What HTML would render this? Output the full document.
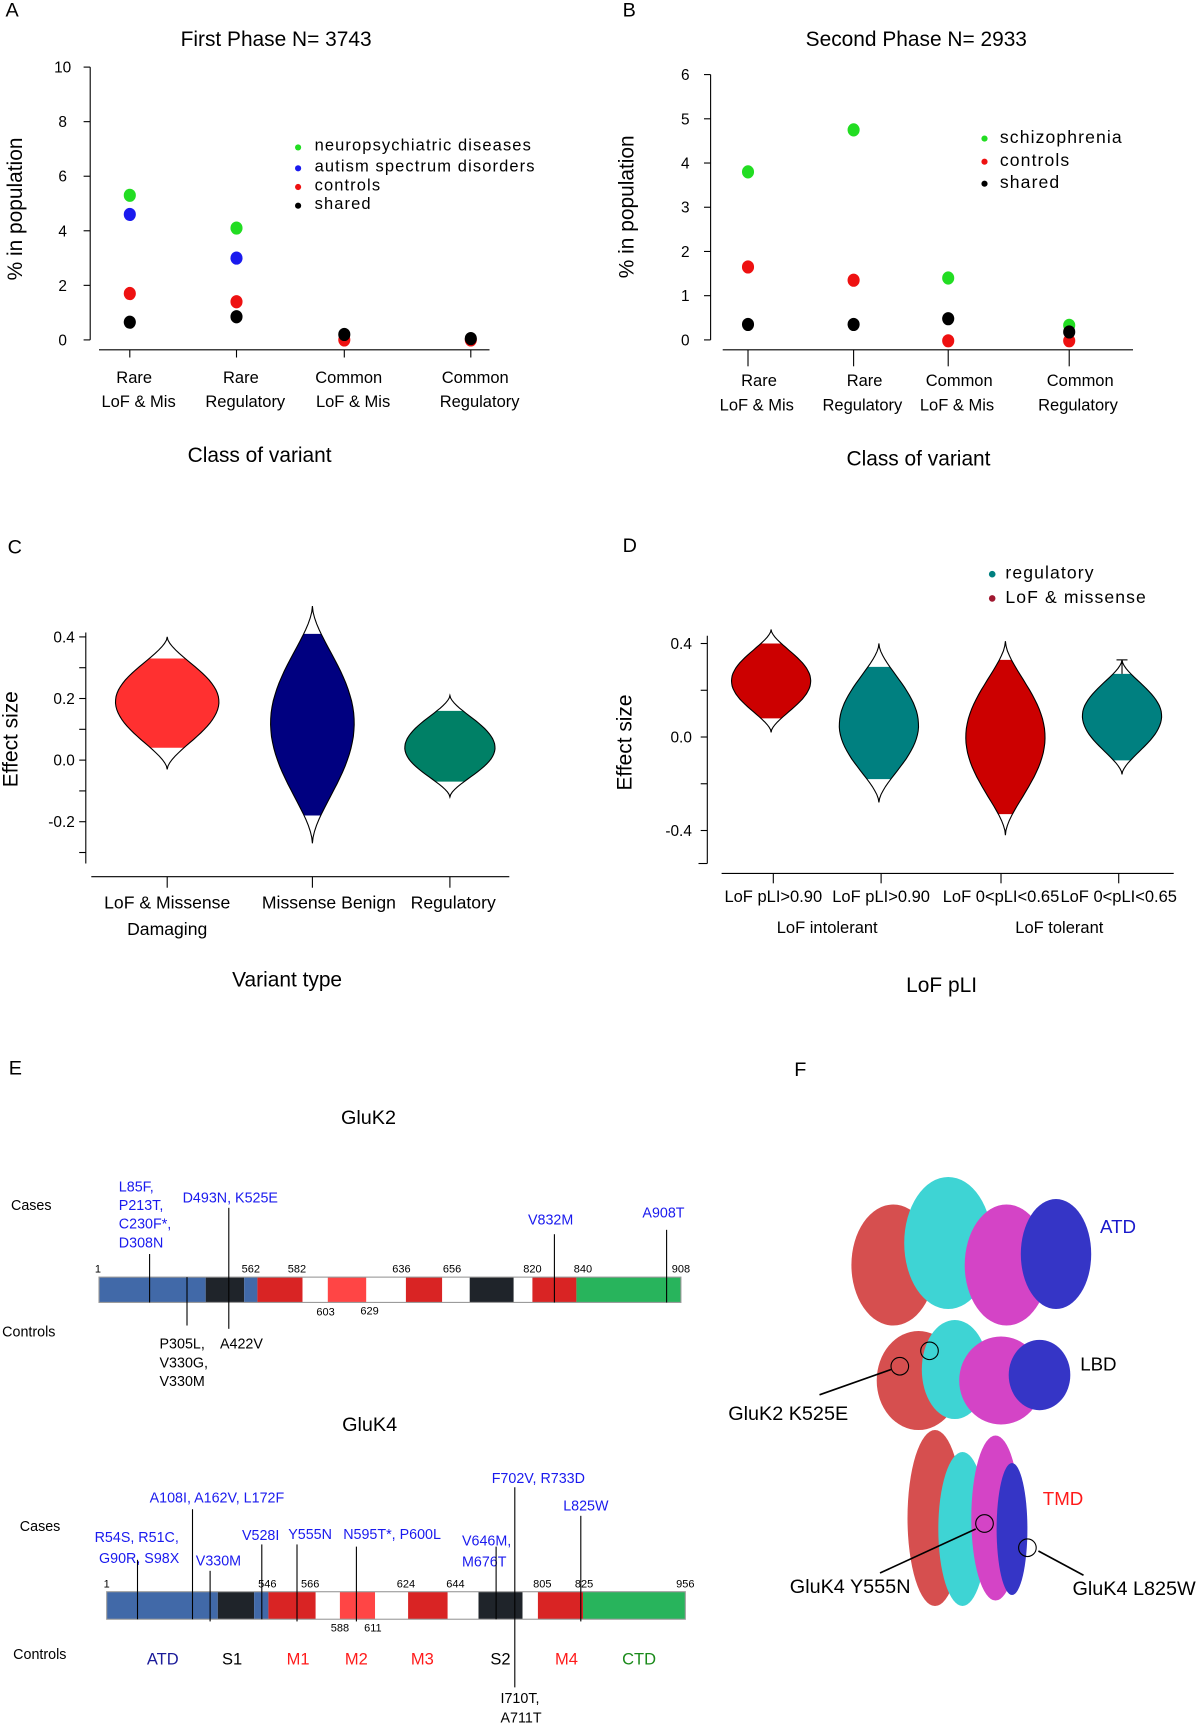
<!DOCTYPE html>
<html><head><meta charset="utf-8"><style>
html,body{margin:0;padding:0;background:#fff}
svg{display:block}
text{font-family:"Liberation Sans","DejaVu Sans",sans-serif}
</style></head><body>
<svg id="fig" width="1200" height="1730" viewBox="0 0 1090.9 1572.7" preserveAspectRatio="none" xmlns="http://www.w3.org/2000/svg">
<g id="gA"></g>
<g id="gB"></g>
<g id="gC"></g>
<g id="gD"></g>
<g id="gE"></g>
<g id="gF">
 <text x="722" y="978" font-size="18">F</text>
 <g opacity="0.9">
  <ellipse cx="812" cy="1150" rx="38" ry="55" fill="#d23c3c"/>
  <ellipse cx="862" cy="1130" rx="40" ry="60" fill="#2ad0d0"/>
  <ellipse cx="915" cy="1150" rx="38" ry="55" fill="#d030c0"/>
  <ellipse cx="960" cy="1140" rx="32" ry="50" fill="#2020c0"/>
  <ellipse cx="835" cy="1255" rx="38" ry="45" fill="#d23c3c"/>
  <ellipse cx="868" cy="1245" rx="30" ry="45" fill="#2ad0d0"/>
  <ellipse cx="910" cy="1255" rx="38" ry="40" fill="#d030c0"/>
  <ellipse cx="945" cy="1250" rx="28" ry="32" fill="#2020c0"/>
  <ellipse cx="850" cy="1380" rx="25" ry="80" fill="#d23c3c"/>
  <ellipse cx="875" cy="1390" rx="22" ry="70" fill="#2ad0d0"/>
  <ellipse cx="905" cy="1380" rx="22" ry="75" fill="#d030c0"/>
  <ellipse cx="920" cy="1390" rx="14" ry="60" fill="#2020c0"/>
 </g>
 <circle cx="818" cy="1242" r="8" fill="none" stroke="#000"/>
 <circle cx="845" cy="1228" r="8" fill="none" stroke="#000"/>
 <circle cx="895" cy="1385" r="8" fill="none" stroke="#000"/>
 <circle cx="934" cy="1407" r="8" fill="none" stroke="#000"/>
 <line x1="745" y1="1268" x2="810" y2="1245" stroke="#000" stroke-width="1.5"/>
 <line x1="800" y1="1430" x2="887" y2="1390" stroke="#000" stroke-width="1.5"/>
 <line x1="985" y1="1432" x2="944" y2="1410" stroke="#000" stroke-width="1.5"/>
 <text x="1000" y="1121" font-size="17" fill="#1a1acc">ATD</text>
 <text x="982" y="1246" font-size="17">LBD</text>
 <text x="948" y="1368" font-size="17" fill="#ff1a1a">TMD</text>
 <text x="662" y="1291" font-size="18">GluK2 K525E</text>
 <text x="718" y="1448" font-size="18">GluK4 Y555N</text>
 <text x="975" y="1450" font-size="18">GluK4 L825W</text>
</g>
</svg>
<script>
// ---------- data ----------
const catsA = [["Rare","LoF & Mis"],["Rare","Regulatory"],["Common","LoF & Mis"],["Common","Regulatory"]];
const aNeuro = [5.3, 4.1, null, null];
const aAutism = [4.6, 3.0, null, null];
const aControls = [1.7, 1.4, 0.0, 0.0];
const aShared = [0.65, 0.85, 0.2, 0.05];
const ticksA = [0,2,4,6,8,10];

const catsB = [["Rare","LoF & Mis"],["Rare","Regulatory"],["Common","LoF & Mis"],["Common","Regulatory"]];
const bScz = [3.8, 4.75, 1.4, 0.33];
const bControls = [1.65, 1.35, -0.02, -0.02];
const bShared = [0.35, 0.35, 0.48, 0.18];
const ticksB = [0,1,2,3,4,5,6];

const catsC = [["LoF & Missense","Damaging"],["Missense Benign"],["Regulatory"]];
const cHi = [0.40, 0.50, 0.21];
const cLo = [-0.03, -0.27, -0.12];
const cMid = [0.19, 0.12, 0.04];
const cQhi = [0.33, 0.41, 0.16];
const cQlo = [0.04, -0.18, -0.07];
const ticksC = [-0.2, 0.0, 0.2, 0.4];

const catsD = ["LoF pLI>0.90","LoF pLI>0.90","LoF 0<pLI<0.65","LoF 0<pLI<0.65"];
const dHi = [0.46, 0.40, 0.41, 0.33];
const dLo = [0.02, -0.28, -0.42, -0.16];
const dMid = [0.24, 0.05, 0.0, 0.09];
const dQhi = [0.40, 0.30, 0.33, 0.27];
const dQlo = [0.08, -0.18, -0.33, -0.10];
const ticksD = [-0.4, 0.0, 0.4];

const NS="http://www.w3.org/2000/svg";
function mk(parent, tag, attrs, txt){
  const e=document.createElementNS(NS,tag);
  for(const k in attrs) e.setAttribute(k,attrs[k]);
  if(txt!==undefined) e.textContent=txt;
  parent.appendChild(e); return e;
}
function label(p,x,y,s,size,opt){
  const t=mk(p,'text',Object.assign({x:x,y:y,'font-size':size,'text-anchor':'middle'},opt||{}),s);
  return t;
}

// ---------- Panel A ----------
(function(){
  const g=document.getElementById('gA');
  const y=v=>309-v*24.8;
  const xs=[118,215,313,428];
  mk(g,'text',{x:5,y:15,'font-size':18},'A');
  const t=label(g,251,42,'First Phase N= 3743',19);
  
  
  mk(g,'line',{x1:82,y1:y(10),x2:82,y2:y(0),stroke:'#000'});
  ticksA.forEach(v=>{
    mk(g,'line',{x1:76,y1:y(v),x2:82,y2:y(v),stroke:'#000'});
    const tk=label(g,57,y(v)+5,String(v),14);
    
    
  });
  mk(g,'line',{x1:90,y1:318,x2:445,y2:318,stroke:'#000'});
  catsA.forEach((c,i)=>{
    mk(g,'line',{x1:xs[i],y1:318,x2:xs[i],y2:325,stroke:'#000'});
    const l1=label(g,xs[i]+4,348,c[0],15);
    
    
    label(g,xs[i]+8,370,c[1],15);
  });
  const yt=label(g,0,0,'% in population',19,{transform:'translate(20,190) rotate(-90)'});
  
  
  const xt=label(g,236,420,'Class of variant',19);
  
  
  [[aNeuro,'#22dd22'],[aAutism,'#1a1aee'],[aControls,'#ee1111'],[aShared,'#000']].forEach(s=>{
    s[0].forEach((v,i)=>{
      if(v===null) return;
      const c=mk(g,'ellipse',{cx:xs[i],cy:y(v),rx:5.5,ry:6,fill:s[1]});
      
      
    });
  });
  const leg=[['neuropsychiatric diseases','#22dd22'],['autism spectrum disorders','#1a1aee'],['controls','#ee1111'],['shared','#000']];
  const ly=[132,151,168,185];
  leg.forEach((l,i)=>{
    mk(g,'circle',{cx:271,cy:ly[i]+2,r:2.8,fill:l[1]});
    const t=mk(g,'text',{x:286,y:ly[i]+5,'font-size':15,'letter-spacing':'1'},l[0]);
    
    
  });
})();

// ---------- Panel B ----------
(function(){
  const g=document.getElementById('gB');
  const y=v=>309-v*40.2;
  const xs=[680,776,862,972];
  mk(g,'text',{x:566,y:15,'font-size':18},'B');
  const t=label(g,833,42,'Second Phase N= 2933',19);
  
  
  mk(g,'line',{x1:646,y1:y(6),x2:646,y2:y(0),stroke:'#000'});
  ticksB.forEach(v=>{
    mk(g,'line',{x1:640,y1:y(v),x2:646,y2:y(v),stroke:'#000'});
    const tk=label(g,623,y(v)+5,String(v),14);
    
    
  });
  mk(g,'line',{x1:657,y1:318,x2:1030,y2:318,stroke:'#000'});
  catsB.forEach((c,i)=>{
    mk(g,'line',{x1:xs[i],y1:318,x2:xs[i],y2:333,stroke:'#000'});
    const l1=label(g,xs[i]+10,351,c[0],15);
    
    
    label(g,xs[i]+8,373,c[1],15);
  });
  const yt=label(g,0,0,'% in population',19,{transform:'translate(576,188) rotate(-90)'});
  
  
  const xt=label(g,835,423,'Class of variant',19);
  
  
  [[bScz,'#22dd22'],[bControls,'#ee1111'],[bShared,'#000']].forEach(s=>{
    s[0].forEach((v,i)=>{
      const c=mk(g,'ellipse',{cx:xs[i],cy:y(v),rx:5.5,ry:6,fill:s[1]});
      
      
    });
  });
  const leg=[['schizophrenia','#22dd22'],['controls','#ee1111'],['shared','#000']];
  const ly=[124,145,165];
  leg.forEach((l,i)=>{
    mk(g,'circle',{cx:895,cy:ly[i]+2,r:2.8,fill:l[1]});
    const t=mk(g,'text',{x:909,y:ly[i]+6,'font-size':16,'letter-spacing':'1'},l[0]);
    
    
  });
})();

// ---------- violin helper ----------
let clipId=0;
function violin(g,cx,yf,hi,lo,mid,qhi,qlo,W,color){
  const N=40;
  const ys=[];
  for(let i=0;i<=N;i++){const v=hi-(hi-lo)*i/N;ys.push(v);}
  const wfun=v=>{let d=v>=mid?(v-mid)/(hi-mid):(mid-v)/(mid-lo);d=Math.min(1,Math.abs(d));return W*Math.pow(1-d*d,1.8);};
  let dR='',dL='';
  ys.forEach((v,i)=>{dR+=(i?'L':'M')+(cx+wfun(v)).toFixed(1)+','+yf(v).toFixed(1);});
  for(let i=ys.length-1;i>=0;i--){dL+='L'+(cx-wfun(ys[i])).toFixed(1)+','+yf(ys[i]).toFixed(1);}
  const d=dR+dL+'Z';
  const id='vc'+(clipId++);
  const cp=mk(g,'clipPath',{id:id});
  mk(cp,'rect',{x:cx-W-5,y:yf(qhi),width:2*W+10,height:yf(qlo)-yf(qhi)});
  mk(g,'path',{d:d,fill:'#fff',stroke:'none'});
  const body=mk(g,'path',{d:d,fill:color,'clip-path':'url(#'+id+')'});
  
  
  mk(g,'path',{d:d,fill:'none',stroke:'#000','stroke-width':1});
}

// ---------- Panel C ----------
(function(){
  const g=document.getElementById('gC');
  const y=v=>691-v*280;
  const xs=[152,284,409];
  const W=[47,38,41];
  const cols=['#ff3030','#000080','#008066'];
  mk(g,'text',{x:7,y:503,'font-size':18},'C');
  mk(g,'line',{x1:78,y1:575,x2:78,y2:785,stroke:'#000'});
  [-0.3,-0.1,0.1,0.3].forEach(v=>{mk(g,'line',{x1:72,y1:y(v),x2:78,y2:y(v),stroke:'#000'});});
  ticksC.forEach(v=>{
    mk(g,'line',{x1:72,y1:y(v),x2:78,y2:y(v),stroke:'#000'});
    const tk=mk(g,'text',{x:68,y:y(v)+5,'font-size':14,'text-anchor':'end'},v.toFixed(1));
    
    
  });
  mk(g,'line',{x1:83,y1:797,x2:463,y2:797,stroke:'#000'});
  catsC.forEach((c,i)=>{
    mk(g,'line',{x1:xs[i],y1:797,x2:xs[i],y2:807,stroke:'#000'});
    c.forEach((s,j)=>{
      const l=label(g,[152,299,412][i],826+j*24,s,16);
      
      
    });
    violin(g,xs[i],y,cHi[i],cLo[i],cMid[i],cQhi[i],cQlo[i],W[i],cols[i]);
  });
  const yt=label(g,0,0,'Effect size',19,{transform:'translate(16,672) rotate(-90)'});
  
  
  const xt=label(g,261,897,'Variant type',19);
  
  
})();

// ---------- Panel D ----------
(function(){
  const g=document.getElementById('gD');
  const y=v=>670-v*212.5;
  const xs=[701,799,914,1020];
  const cols=['#cc0000','#008080','#cc0000','#008080'];
  mk(g,'text',{x:566,y:502,'font-size':18},'D');
  mk(g,'line',{x1:643,y1:578,x2:643,y2:785,stroke:'#000'});
  [-0.2,0.2].forEach(v=>{mk(g,'line',{x1:637,y1:y(v),x2:643,y2:y(v),stroke:'#000'});});
  mk(g,'line',{x1:635,y1:785,x2:643,y2:785,stroke:'#000'});
  ticksD.forEach(v=>{
    mk(g,'line',{x1:637,y1:y(v),x2:643,y2:y(v),stroke:'#000'});
    const tk=mk(g,'text',{x:629,y:y(v)+5,'font-size':14,'text-anchor':'end'},v.toFixed(1));
    
    
  });
  mk(g,'line',{x1:656,y1:794,x2:1067,y2:794,stroke:'#000'});
  catsD.forEach((c,i)=>{
    mk(g,'line',{x1:[703,801,910,1017][i],y1:794,x2:[703,801,910,1017][i],y2:803,stroke:'#000'});
    const l=label(g,[703,801,910,1017][i],820,c,15);
    
    
    violin(g,xs[i],y,dHi[i],dLo[i],dMid[i],dQhi[i],dQlo[i],36,cols[i]);
  });
  mk(g,'line',{x1:xs[3]-5,y1:y(dHi[3]),x2:xs[3]+5,y2:y(dHi[3]),stroke:'#000'});
  mk(g,'line',{x1:xs[3],y1:y(dHi[3]),x2:xs[3],y2:y(dQhi[3]),stroke:'#000'});
  label(g,752,848,'LoF intolerant',15);
  label(g,963,848,'LoF tolerant',15);
  const yt=label(g,0,0,'Effect size',19,{transform:'translate(574,675) rotate(-90)'});
  
  
  const xt=label(g,856,902,'LoF pLI',19);
  
  
  [['regulatory','#008080',520],['LoF & missense','#a01830',542]].forEach(l=>{
    mk(g,'circle',{cx:902,cy:l[2]+2,r:3,fill:l[1]});
    const t=mk(g,'text',{x:914,y:l[2]+6,'font-size':16,'letter-spacing':'1'},l[0]);
    
    
  });
})();

// ---------- Panel E ----------
(function(){
  const g=document.getElementById('gE');
  const B='#4169a8',K='#1f242a',R='#d92424',L='#ff4545',W='#fff',G='#28b45c';
  mk(g,'text',{x:8,y:977,'font-size':18},'E');
  function bar(y0,h,segs){
    segs.forEach(s=>{mk(g,'rect',{x:s[0],y:y0,width:s[1]-s[0],height:h,fill:s[2]});});
    const o=mk(g,'rect',{x:segs[0][0],y:y0,width:segs[segs.length-1][1]-segs[0][0],height:h,fill:'none',stroke:'#999','stroke-width':1});
    
    
  }
  function t(x,y,s,size,col,anchor){return mk(g,'text',{x:x,y:y,'font-size':size,fill:col||'#000','text-anchor':anchor||'start'},s);}
  function ln(x1,y1,x2,y2){mk(g,'line',{x1:x1,y1:y1,x2:x2,y2:y2,stroke:'#000','stroke-width':1});}
  t(335,1022,'GluK2',18,'#000','middle');
  t(10,1100,'Cases',13);t(2,1215,'Controls',13);
  bar(1161,23,[[90,187,B],[187,222,K],[222,234,B],[234,275,R],[275,298,W],[298,333,L],[333,369,W],[369,402,R],[402,427,W],[427,467,K],[467,484,W],[484,524,R],[524,619,G]]);
  [['1',89],['562',228],['582',270],['636',365],['656',411],['820',484],['840',530],['908',619]].forEach(a=>t(a[1],1157,a[0],10,'#000','middle'));
  t(296,1196,'603',10,'#000','middle');t(336,1195,'629',10,'#000','middle');
  const bl='#1a1aee';
  t(108,1083,'L85F,',13,bl);t(108,1100,'P213T,',13,bl);t(108,1117,'C230F*,',13,bl);t(108,1134,'D308N',13,bl);
  t(166,1093,'D493N, K525E',13,bl);t(480,1113,'V832M',13,bl);t(584,1107,'A908T',13,bl);
  ln(136,1140,136,1184);ln(208,1098,208,1208);ln(504,1122,504,1184);ln(606,1118,606,1184);ln(170,1161,170,1205);
  t(145,1226,'P305L,',13);t(145,1243,'V330G,',13);t(145,1260,'V330M',13);t(200,1226,'A422V',13);
  t(336,1301,'GluK4',18,'#000','middle');
  t(18,1392,'Cases',13);t(12,1508,'Controls',13);
  bar(1447,25,[[97,198,B],[198,231,K],[231,244,B],[244,287,R],[287,309,W],[309,341,L],[341,371,W],[371,407,R],[407,435,W],[435,475,K],[475,489,W],[489,530,R],[530,623,G]]);
  [['1',97],['546',243],['566',282],['624',369],['644',414],['805',493],['825',531],['956',623]].forEach(a=>t(a[1],1443,a[0],10,'#000','middle'));
  t(309,1483,'588',10,'#000','middle');t(339,1483,'611',10,'#000','middle');
  t(86,1402,'R54S, R51C,',13,bl);t(90,1421,'G90R, S98X',13,bl);t(136,1366,'A108I, A162V, L172F',13,bl);
  t(178,1423,'V330M',13,bl);t(220,1400,'V528I',13,bl);t(262,1399,'Y555N',13,bl);t(312,1399,'N595T*, P600L',13,bl);
  t(420,1405,'V646M,',13,bl);t(420,1424,'M676T',13,bl);t(447,1348,'F702V, R733D',13,bl);t(512,1373,'L825W',13,bl);
  ln(125,1418,125,1472);ln(175,1372,175,1472);ln(191,1428,191,1474);ln(238,1404,238,1472);ln(270,1404,270,1474);ln(324,1406,324,1474);ln(451,1406,451,1472);ln(468,1352,468,1534);ln(528,1378,528,1474);
  t(455,1548,'I710T,',13);t(455,1566,'A711T',13);
  [['ATD',148,'#1a1a99'],['S1',211,'#000'],['M1',271,'#ff1a1a'],['M2',324,'#ff1a1a'],['M3',384,'#ff1a1a'],['S2',455,'#000'],['M4',515,'#ff1a1a'],['CTD',581,'#1a8a1a']].forEach(a=>{
    const e=t(a[1],1513,a[0],15,a[2],'middle');
    
    
  });
})();
</script>
</body></html>
